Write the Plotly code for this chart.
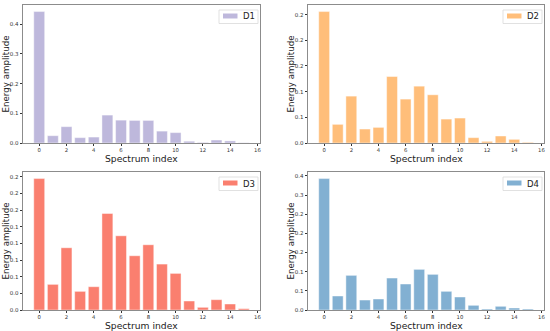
import plotly.graph_objects as go

spectrum_index = list(range(16))

d1_values = [0.4426, 0.0246, 0.055, 0.018, 0.020, 0.094, 0.077, 0.076, 0.076, 0.040, 0.035, 0.006, 0.002, 0.010, 0.007, 0.001]
d2_values = [0.256, 0.0363, 0.0913, 0.0272, 0.0304, 0.1295, 0.0855, 0.1107, 0.0939, 0.0466, 0.0486, 0.0104, 0.0032, 0.0136, 0.0071, 0.0013]
d3_values = [0.1975, 0.0385, 0.0935, 0.028, 0.035, 0.145, 0.1115, 0.0815, 0.098, 0.069, 0.055, 0.0135, 0.004, 0.0155, 0.009, 0.002]
d4_values = [0.343, 0.0365, 0.0904, 0.026, 0.0287, 0.0834, 0.0678, 0.106, 0.093, 0.0487, 0.0339, 0.0122, 0.0026, 0.0096, 0.0052, 0.0026]

series_names = ["D1", "D2", "D3", "D4"]
series_colors = ["#BEB8DC", "#FFBE7A", "#FA7F6F", "#82B0D2"]

x_tick_vals = [0, 2, 4, 6, 8, 10, 12, 14, 16]
x_tick_text = ["0", "2", "4", "6", "8", "10", "12", "14", "16"]

d1_tick_vals = [0.0, 0.1, 0.2, 0.3, 0.4]
d1_tick_text = ["0.0", "0.1", "0.2", "0.3", "0.4"]
d2_tick_vals = [0.0, 0.05, 0.10, 0.15, 0.20, 0.25]
d2_tick_text = ["0.0", "0.1", "0.1", "0.2", "0.2", "0.2"]
d3_tick_vals = [0.0, 0.025, 0.05, 0.075, 0.10, 0.125, 0.15, 0.175, 0.20]
d3_tick_text = ["0.0", "0.0", "0.1", "0.1", "0.1", "0.1", "0.2", "0.2", "0.2"]
d4_tick_vals = [0.0, 0.05, 0.10, 0.15, 0.20, 0.25, 0.30, 0.35]
d4_tick_text = ["0.0", "0.1", "0.1", "0.2", "0.2", "0.2", "0.3", "0.4"]

all_values = [d1_values, d2_values, d3_values, d4_values]
all_tick_vals = [d1_tick_vals, d2_tick_vals, d3_tick_vals, d4_tick_vals]
all_tick_text = [d1_tick_text, d2_tick_text, d3_tick_text, d4_tick_text]

W, H = 550, 331
# panel boxes in pixels: (left, right, top, bottom)
panels = [(23, 260, 5, 143), (308, 544, 5, 143), (23, 260, 172, 310), (308, 544, 172, 310)]


def px(v):
    return v / W


def py(v):
    return 1 - v / H


fig = go.Figure()
layout = dict(
    width=W, height=H,
    margin=dict(l=0, r=0, t=0, b=0),
    paper_bgcolor="white", plot_bgcolor="white",
    font=dict(family="DejaVu Sans", color="#222"),
    showlegend=False,
)
annotations = []
shapes = []
spine = "#8c8c8c"
for i in range(4):
    l, r, t, b = panels[i]
    xa = "x" if i == 0 else f"x{i+1}"
    ya = "y" if i == 0 else f"y{i+1}"
    fig.add_trace(go.Bar(
        x=spectrum_index, y=all_values[i], name=series_names[i],
        marker=dict(color=series_colors[i], line=dict(color="rgba(255,255,255,0.55)", width=0.8)),
        width=0.8, xaxis=xa, yaxis=ya,
    ))
    ymax = max(all_values[i]) * 1.05
    xkey = "xaxis" if i == 0 else f"xaxis{i+1}"
    ykey = "yaxis" if i == 0 else f"yaxis{i+1}"
    layout[xkey] = dict(
        domain=[px(l), px(r)], anchor=ya, range=[-1.19, 16.19],
        tickmode="array", tickvals=x_tick_vals, ticktext=x_tick_text,
        ticks="outside", ticklen=2, tickwidth=0.6, tickcolor="#333",
        tickfont=dict(size=5.3, color="#333"),
        showgrid=False, zeroline=False, showline=True, linecolor=spine, linewidth=1,
        mirror=True, automargin=False, fixedrange=True,
    )
    layout[ykey] = dict(
        domain=[py(b), py(t)], anchor=xa, range=[0, ymax],
        tickmode="array", tickvals=all_tick_vals[i], ticktext=all_tick_text[i],
        ticks="outside", ticklen=2.5, tickwidth=0.6, tickcolor="#333",
        tickfont=dict(size=5.5, color="#333"),
        showgrid=False, zeroline=False, showline=True, linecolor=spine, linewidth=1,
        mirror=True, automargin=False, fixedrange=True,
    )
    # legend box (drawn like matplotlib's legend)
    shapes.append(dict(
        type="rect", xref="paper", yref="paper",
        x0=px(r - 41), x1=px(r - 2), y0=py(t + 18.5), y1=py(t + 5),
        line=dict(color="#d9d9d9", width=0.8), fillcolor="white", layer="above",
    ))
    shapes.append(dict(
        type="rect", xref="paper", yref="paper",
        x0=px(r - 37), x1=px(r - 22.5), y0=py(t + 13.5), y1=py(t + 8.5),
        line=dict(width=0), fillcolor=series_colors[i], layer="above",
    ))
    annotations.append(dict(
        text=series_names[i], x=px(r - 11.5), y=py(t + 11.5),
        xref="paper", yref="paper", showarrow=False,
        font=dict(size=8.5, color="#222"), xanchor="center", yanchor="middle",
    ))
    # axis titles
    annotations.append(dict(
        text="Spectrum index", x=px((l + r) / 2), y=py(b + 15),
        xref="paper", yref="paper", showarrow=False, borderpad=0,
        font=dict(size=9.2, color="#222"), xanchor="center", yanchor="middle",
    ))
    annotations.append(dict(
        text="Energy amplitude", x=px(l - 17.5), y=py((t + b) / 2),
        xref="paper", yref="paper", showarrow=False, textangle=-90, borderpad=0,
        font=dict(size=8.7, color="#222"), xanchor="center", yanchor="middle",
    ))

layout["annotations"] = annotations
layout["shapes"] = shapes
fig.update_layout(**layout)
fig.write_html(
    "out.html",
    config={"displayModeBar": False},
    post_script="document.body.style.margin='0';document.body.style.overflow='hidden';",
)
